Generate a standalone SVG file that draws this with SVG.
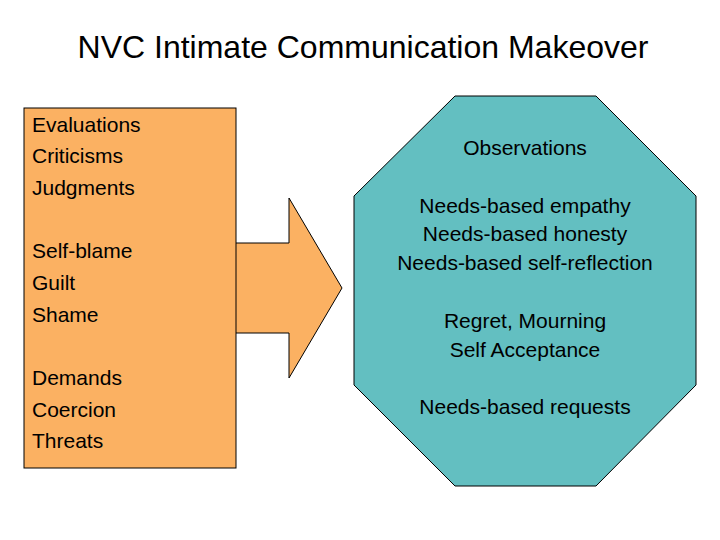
<svg xmlns="http://www.w3.org/2000/svg" width="720" height="540" viewBox="0 0 720 540">
<style>
text{font-family:"Liberation Sans",Arial,sans-serif;fill:#000}
.l{font-size:21px}
.c{font-size:21px;text-anchor:middle}
.shape{stroke:#000;stroke-width:1}
</style>
<rect width="720" height="540" fill="#fff"/>
<text x="363" y="58" font-size="32" text-anchor="middle">NVC Intimate Communication Makeover</text>
<g id="connectors">
<path class="shape" fill="#fbb162" d="M236,243 H289 V198 L342,288 L289,378 V333 H236"/>
</g>
<g id="left">
<rect class="shape" x="24" y="108" width="212" height="360" fill="#fbb162"/>
<text class="l" x="32" y="132">Evaluations</text>
<text class="l" x="32" y="163">Criticisms</text>
<text class="l" x="32" y="195">Judgments</text>
<text class="l" x="32" y="258">Self-blame</text>
<text class="l" x="32" y="290">Guilt</text>
<text class="l" x="32" y="322">Shame</text>
<text class="l" x="32" y="385">Demands</text>
<text class="l" x="32" y="417">Coercion</text>
<text class="l" x="32" y="448">Threats</text>
</g>
<g id="right">
<polygon class="shape" fill="#63bfc1" points="455,96 596,96 696,196 696,385 596,486 455,486 354,385 354,196"/>
<text class="c" x="525" y="155">Observations</text>
<text class="c" x="525" y="213">Needs-based empathy</text>
<text class="c" x="525" y="241">Needs-based honesty</text>
<text class="c" x="525" y="270">Needs-based self-reflection</text>
<text class="c" x="525" y="328">Regret, Mourning</text>
<text class="c" x="525" y="357">Self Acceptance</text>
<text class="c" x="525" y="414">Needs-based requests</text>
</g>
</svg>
